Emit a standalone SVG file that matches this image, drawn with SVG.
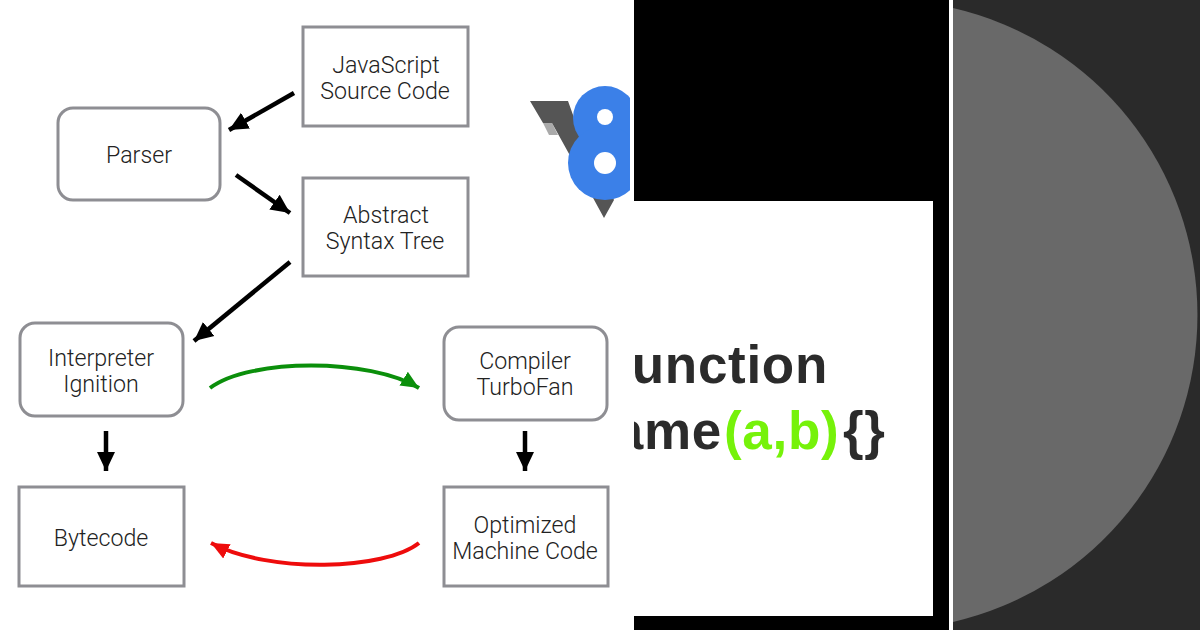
<svg xmlns="http://www.w3.org/2000/svg" width="1200" height="630" viewBox="0 0 1200 630">
<style>
.box{fill:#fff;stroke:#8e8e93;stroke-width:3}
.lbl{font-family:"Roboto","Liberation Sans",sans-serif;font-weight:300;font-size:23.2px;fill:#222;text-anchor:middle}
.code{font-family:"Liberation Sans",sans-serif;font-weight:700;font-size:53px;fill:#2b2b2b;letter-spacing:.7px}
.blk{fill:none;stroke:#000;stroke-width:4.5}
</style>
<defs>
<marker id="hk" markerUnits="userSpaceOnUse" markerWidth="20" markerHeight="20" refX="19" refY="10" orient="auto" viewBox="0 0 20 20"><path d="M0 1L19 10L0 19Z" fill="#000"/></marker>
<marker id="hg" markerUnits="userSpaceOnUse" markerWidth="20" markerHeight="20" refX="18" refY="10" orient="auto" viewBox="0 0 20 20"><path d="M0 2L18 10L0 18Z" fill="#0b8f0b"/></marker>
<marker id="hr" markerUnits="userSpaceOnUse" markerWidth="20" markerHeight="20" refX="18" refY="10" orient="auto" viewBox="0 0 20 20"><path d="M0 2L18 10L0 18Z" fill="#ee0c0c"/></marker>
<clipPath id="logoclip"><rect x="520" y="80" width="110" height="150"/></clipPath>
<clipPath id="cardclip"><rect x="634" y="201" width="299" height="415"/></clipPath>
</defs>
<rect width="1200" height="630" fill="#fff"/>
<g id="panel-code">
<rect x="634" y="0" width="315" height="630" fill="#000"/>
<rect x="634" y="201" width="299" height="415" fill="#fff"/>
<g clip-path="url(#cardclip)">
<text class="code" x="828" y="383" text-anchor="end">unction</text>
<text class="code" x="722" y="449" text-anchor="end">ame</text>
<text class="code" x="724" y="449" style="fill:#76f20a">(a,b)</text>
<text class="code" x="843" y="449">{}</text>
</g>
</g>
<g id="panel-circle">
<rect x="953" y="0" width="247" height="630" fill="#2a2a2a"/>
<path d="M953 8A315 315 0 0 1 953 622Z" fill="#696969"/>
</g>
<g id="logo" clip-path="url(#logoclip)">
<polygon points="543,123 552,123 558,135 549,135" fill="#aaa"/>
<polygon points="530,101 568,101 582,140 600,170 614,200 604,218 568,152 552,123 543,123" fill="#555"/>
<circle cx="605" cy="118" r="32" fill="#3b80e8"/>
<circle cx="605" cy="163" r="37" fill="#3b80e8"/>
<circle cx="605" cy="117" r="8" fill="#fff"/>
<circle cx="605" cy="163" r="11" fill="#fff"/>
</g>
<g id="connectors">
<path class="blk" d="M294 93L229 130" marker-end="url(#hk)"/>
<path class="blk" d="M236 175L290 213" marker-end="url(#hk)"/>
<path class="blk" d="M290 262L194 341" marker-end="url(#hk)"/>
<path class="blk" d="M106 431V471" marker-end="url(#hk)"/>
<path class="blk" d="M525 431V471" marker-end="url(#hk)"/>
<path d="M210 388C250 358 370 358 419 388" fill="none" stroke="#0b8f0b" stroke-width="4" marker-end="url(#hg)"/>
<path d="M419 543C385 570 270 574 211 543" fill="none" stroke="#ee0c0c" stroke-width="4" marker-end="url(#hr)"/>
</g>
<g id="node-js"><rect class="box" x="303" y="27" width="165" height="99"/><text class="lbl" x="386" y="72.5">JavaScript</text><text class="lbl" x="385" y="98.5">Source Code</text></g>
<g id="node-parser"><rect class="box" x="58" y="108" width="162" height="92" rx="15"/><text class="lbl" x="139" y="162.5">Parser</text></g>
<g id="node-ast"><rect class="box" x="303" y="178" width="165" height="98"/><text class="lbl" x="386" y="222.5">Abstract</text><text class="lbl" x="385" y="248.5">Syntax Tree</text></g>
<g id="node-interpreter"><rect class="box" x="20" y="323" width="163" height="93" rx="15"/><text class="lbl" x="101" y="365.5">Interpreter</text><text class="lbl" x="101" y="391.5">Ignition</text></g>
<g id="node-compiler"><rect class="box" x="444" y="327" width="163" height="93" rx="15"/><text class="lbl" x="525" y="368.5">Compiler</text><text class="lbl" x="525" y="394.5">TurboFan</text></g>
<g id="node-bytecode"><rect class="box" x="19" y="487" width="165" height="99"/><text class="lbl" x="101" y="545.5">Bytecode</text></g>
<g id="node-optimized"><rect class="box" x="444" y="487" width="164" height="99"/><text class="lbl" x="525" y="532.5">Optimized</text><text class="lbl" x="525" y="558.5">Machine Code</text></g>
</svg>
